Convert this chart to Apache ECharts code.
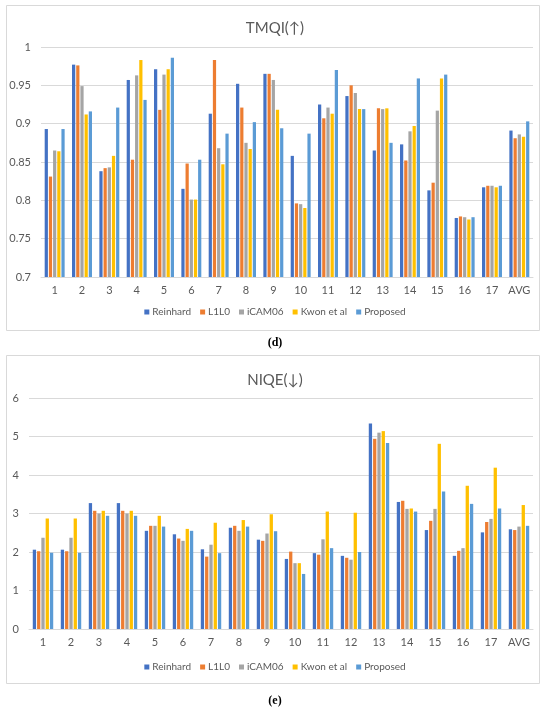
<script src="https://cdnjs.cloudflare.com/ajax/libs/echarts/6.0.0/echarts.min.js"></script>
<style>
  html, body { margin: 0; padding: 0; background: #fff; }
  #myChart { width: 550px; height: 708px; }
</style>
<div id="myChart"></div>
<script type="text/javascript">

  // data
  var categories = ["1", "2", "3", "4", "5", "6", "7", "8", "9", "10", "11", "12", "13", "14", "15", "16", "17", "AVG"];
  var methods = ["Reinhard", "L1L0", "iCAM06", "Kwon et al", "Proposed"];

  var tmqiReinhard = [0.893, 0.977, 0.838, 0.957, 0.971, 0.815, 0.913, 0.952, 0.965, 0.858, 0.925, 0.936, 0.865, 0.873, 0.813, 0.777, 0.817, 0.891];
  var tmqiL1L0     = [0.831, 0.976, 0.842, 0.853, 0.918, 0.848, 0.983, 0.921, 0.965, 0.796, 0.907, 0.950, 0.920, 0.852, 0.823, 0.779, 0.819, 0.881];
  var tmqiICAM06   = [0.865, 0.949, 0.843, 0.963, 0.964, 0.801, 0.868, 0.875, 0.957, 0.795, 0.921, 0.940, 0.919, 0.890, 0.917, 0.778, 0.819, 0.886];
  var tmqiKwon     = [0.864, 0.912, 0.858, 0.983, 0.971, 0.801, 0.847, 0.867, 0.918, 0.790, 0.913, 0.919, 0.920, 0.897, 0.959, 0.775, 0.817, 0.883];
  var tmqiProposed = [0.893, 0.916, 0.921, 0.931, 0.986, 0.853, 0.887, 0.902, 0.894, 0.887, 0.970, 0.919, 0.875, 0.959, 0.964, 0.778, 0.819, 0.903];

  var niqeReinhard = [2.06, 2.06, 3.27, 3.27, 2.55, 2.46, 2.07, 2.63, 2.32, 1.82, 1.97, 1.90, 5.34, 3.30, 2.57, 1.90, 2.51, 2.59];
  var niqeL1L0     = [2.02, 2.02, 3.07, 3.07, 2.68, 2.35, 1.88, 2.68, 2.29, 2.01, 1.93, 1.85, 4.94, 3.33, 2.81, 2.03, 2.78, 2.57];
  var niqeICAM06   = [2.37, 2.37, 3.00, 3.00, 2.68, 2.29, 2.19, 2.55, 2.48, 1.71, 2.33, 1.80, 5.10, 3.12, 3.12, 2.10, 2.86, 2.66];
  var niqeKwon     = [2.87, 2.87, 3.07, 3.07, 2.94, 2.60, 2.76, 2.83, 2.98, 1.71, 3.05, 3.02, 5.14, 3.13, 4.81, 3.72, 4.19, 3.22];
  var niqeProposed = [1.98, 1.98, 2.94, 2.94, 2.66, 2.55, 1.97, 2.66, 2.54, 1.43, 2.10, 2.00, 4.83, 3.05, 3.57, 3.25, 3.13, 2.68];

  var tmqiData = [tmqiReinhard, tmqiL1L0, tmqiICAM06, tmqiKwon, tmqiProposed];
  var niqeData = [niqeReinhard, niqeL1L0, niqeICAM06, niqeKwon, niqeProposed];

  // excel-like palette
  var colors = ["#4472C4", "#ED7D31", "#A5A5A5", "#FFC000", "#5B9BD5"];
  var textColor = "#595959";
  var gridColor = "#d9d9d9";
  var font = "Lato, 'Open Sans', sans-serif";

  var chartDom = document.getElementById("myChart");
  var myChart = echarts.init(chartDom);

  function xAxisFor(gridIndex) {
    return {
      type: "category",
      gridIndex: gridIndex,
      data: categories,
      axisTick: { show: false },
      axisLine: { lineStyle: { color: gridColor } },
      axisLabel: { color: textColor, fontSize: 11, fontFamily: font, margin: 8, interval: 0 },
    };
  }

  function yAxisFor(gridIndex, min, max, interval) {
    return {
      type: "value",
      gridIndex: gridIndex,
      min: min,
      max: max,
      interval: interval,
      axisLine: { show: false },
      axisTick: { show: false },
      axisLabel: { color: textColor, fontSize: 11, fontFamily: font, margin: 10 },
      splitLine: { lineStyle: { color: gridColor } },
    };
  }

  function legendFor(top) {
    return {
      top: top,
      left: "center",
      data: methods,
      icon: "rect",
      itemWidth: 5,
      itemHeight: 5,
      itemGap: 9,
      textStyle: { color: textColor, fontSize: 10, fontFamily: font, padding: [0, 0, 0, -2] },
    };
  }

  var series = [];
  methods.forEach(function (name, i) {
    series.push({
      name: name,
      type: "bar",
      xAxisIndex: 0,
      yAxisIndex: 0,
      data: tmqiData[i],
      itemStyle: { color: colors[i] },
      barGap: "30%",
      barCategoryGap: "27%",
    });
  });
  methods.forEach(function (name, i) {
    series.push({
      name: name,
      type: "bar",
      xAxisIndex: 1,
      yAxisIndex: 1,
      data: niqeData[i],
      itemStyle: { color: colors[i] },
      barGap: "30%",
      barCategoryGap: "27%",
    });
  });

  var option = {
    backgroundColor: "#fff",
    animation: false,
    color: colors,
    title: [
      {
        text: "TMQI(↑)",
        left: "center",
        top: 16,
        textStyle: { color: textColor, fontSize: 15, fontWeight: "normal", fontFamily: font },
      },
      {
        text: "NIQE(↓)",
        left: "center",
        top: 368,
        textStyle: { color: textColor, fontSize: 15, fontWeight: "normal", fontFamily: font },
      },
    ],
    legend: [legendFor(302), legendFor(657)],
    grid: [
      { left: 41, right: 17, top: 47, height: 230 },
      { left: 29, right: 17, top: 398, height: 231 },
    ],
    xAxis: [xAxisFor(0), xAxisFor(1)],
    yAxis: [yAxisFor(0, 0.7, 1, 0.05), yAxisFor(1, 0, 6, 1)],
    series: series,
    graphic: [
      {
        type: "rect",
        shape: { x: 6.5, y: 5.5, width: 533, height: 325 },
        style: { fill: "none", stroke: gridColor, lineWidth: 1 },
        silent: true,
      },
      {
        type: "rect",
        shape: { x: 6.5, y: 355.5, width: 533, height: 328 },
        style: { fill: "none", stroke: gridColor, lineWidth: 1 },
        silent: true,
      },
      {
        type: "text",
        left: "center",
        top: 337,
        style: { text: "(d)", fill: "#000", font: "bold 12px 'Liberation Serif', serif" },
      },
      {
        type: "text",
        left: "center",
        top: 695,
        style: { text: "(e)", fill: "#000", font: "bold 12px 'Liberation Serif', serif" },
      },
    ],
  };

  myChart.setOption(option);
</script>
